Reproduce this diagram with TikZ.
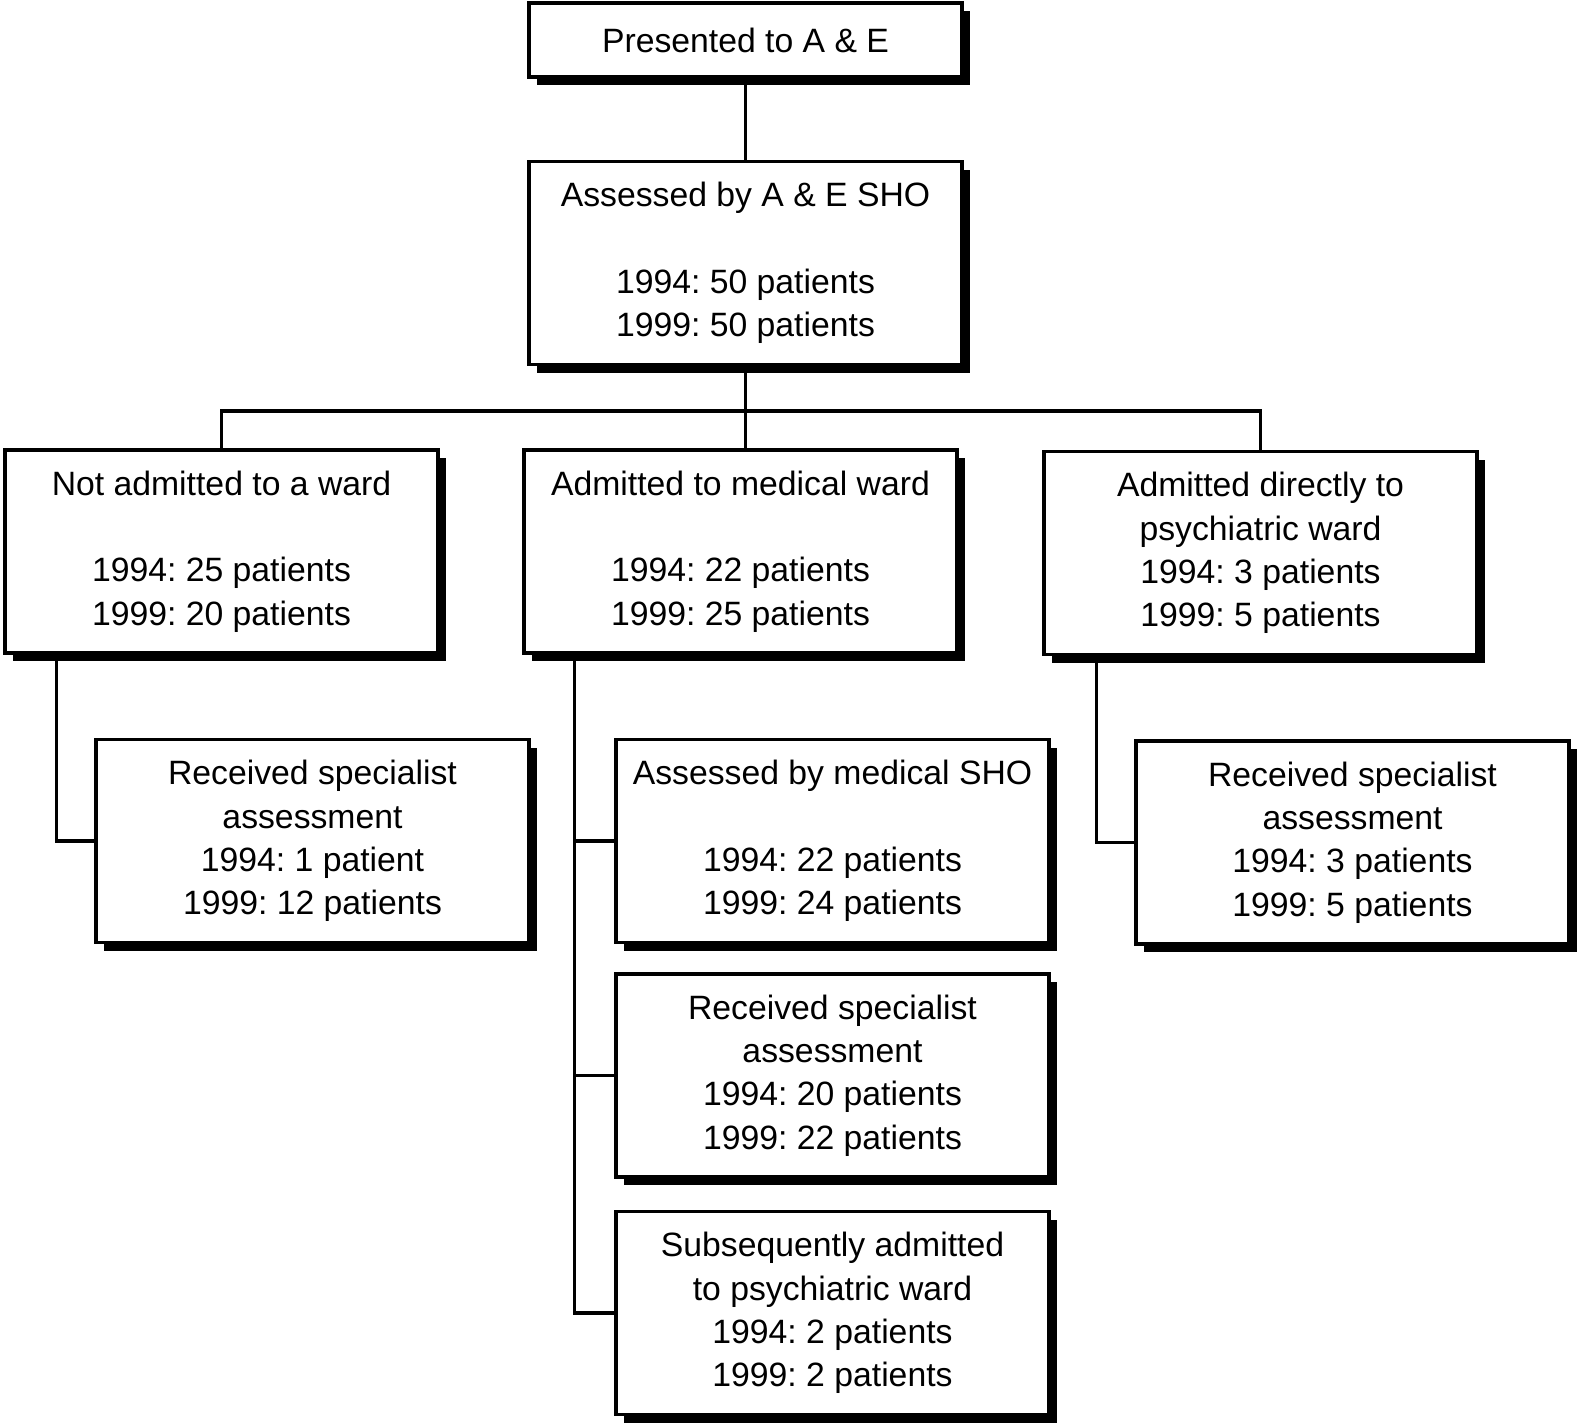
\documentclass[tikz,border=0pt]{standalone}
\usepackage{fontspec}
\setmainfont{Liberation Sans}
\usepackage{tikz}
\usetikzlibrary{shadows}
\frenchspacing

\begin{document}
\begin{tikzpicture}[
    box/.style={draw, rectangle, fill=white, line width=0.9pt, align=center,
        minimum width=4.33cm, minimum height=2.03cm, inner sep=0pt,
        font=\fontsize{9.6}{12.3}\selectfont,
        drop shadow={shadow xshift=0.08cm, shadow yshift=-0.08cm, opacity=1, fill=black}},
    link/.style={line width=0.9pt}]
    \useasboundingbox (0,0) rectangle (15.79,-14.25);

    % Top
    \node[box, minimum height=0.74cm] (pres) at (7.455,-0.40) {Presented to A \& E};
    \node[box] (shoAE) at (7.455,-2.63) {Assessed by A \& E SHO\\[12.3pt]1994: 50 patients\\1999: 50 patients};

    % Second row
    \node[box] (notward) at (2.215,-5.515) {Not admitted to a ward\\[12.3pt]1994: 25 patients\\1999: 20 patients};
    \node[box] (medward) at (7.405,-5.515) {Admitted to medical ward\\[12.3pt]1994: 22 patients\\1999: 25 patients};
    \node[box] (psyward) at (12.605,-5.53) {Admitted directly to\\psychiatric ward\\1994: 3 patients\\1999: 5 patients};

    % Third row
    \node[box] (specnot) at (3.125,-8.41) {Received specialist\\assessment\\1994: 1 patient\\1999: 12 patients};
    \node[box] (shomed) at (8.325,-8.41) {Assessed by medical SHO\\[12.3pt]1994: 22 patients\\1999: 24 patients};
    \node[box] (specmed) at (8.325,-10.755) {Received specialist\\assessment\\1994: 20 patients\\1999: 22 patients};
    \node[box] (psysub) at (8.325,-13.13) {Subsequently admitted\\to psychiatric ward\\1994: 2 patients\\1999: 2 patients};
    \node[box] (specpsy) at (13.525,-8.425) {Received specialist\\assessment\\1994: 3 patients\\1999: 5 patients};

    % Connectors
    \coordinate (bus) at (0,-4.11);
    \draw[link] (pres.south) -- (shoAE.north);
    \draw[link] (shoAE.south) -- (shoAE.south |- medward.north);
    \draw[link] (notward.north) -- (notward.north |- bus) -- (psyward.north |- bus) -- (psyward.north);

    \coordinate (trunkL) at ([xshift=0.53cm]notward.south west);
    \coordinate (trunkM) at ([xshift=0.52cm]medward.south west);
    \coordinate (trunkR) at ([xshift=0.54cm]psyward.south west);
    \draw[link] (trunkL) |- (specnot.west);
    \draw[link] (trunkM) |- (psysub.west);
    \draw[link] (shomed.west) -- (shomed.west -| trunkM);
    \draw[link] (specmed.west) -- (specmed.west -| trunkM);
    \draw[link] (trunkR) |- (specpsy.west);
\end{tikzpicture}
\end{document}
